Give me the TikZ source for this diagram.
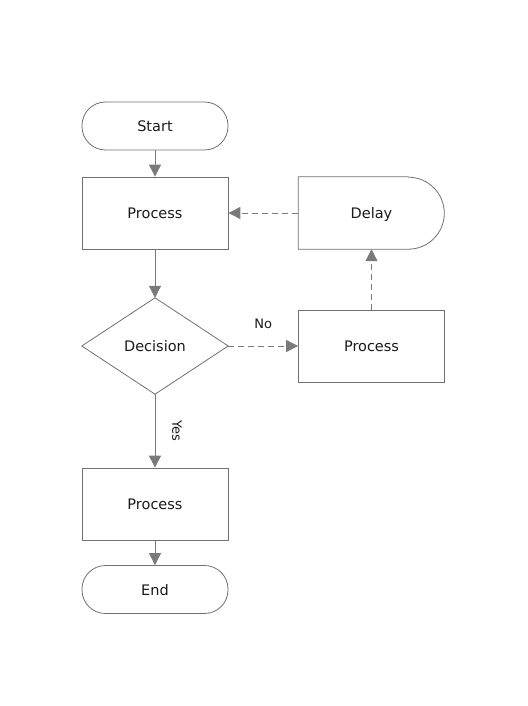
\documentclass[tikz,border=0pt]{standalone}
\usepackage{fontspec}
\setmainfont{DejaVu Sans}
\usetikzlibrary{arrows.meta}
\definecolor{lineg}{HTML}{7A7A7A}
\definecolor{boxg}{HTML}{707070}
\definecolor{txt}{HTML}{1A1A1A}
\begin{document}
\begin{tikzpicture}[x=1pt,y=-1pt,
  lbl/.style={font=\fontsize{14.5}{16}\selectfont, text=txt},
  slbl/.style={font=\fontsize{13}{15}\selectfont, text=txt},
  procbox/.style={draw=boxg, line width=0.8pt, minimum width=146pt, minimum height=72pt, inner sep=0pt, lbl, text depth=-1.5pt},
  termbox/.style={draw=boxg, line width=0.8pt, rounded corners=23.5pt, minimum width=146pt, minimum height=48pt, inner sep=0pt, lbl, text depth=-1.5pt},
  ghost/.style={minimum width=146pt, minimum height=#1, inner sep=0pt, lbl, text depth=-1.5pt},
  shapeline/.style={draw=boxg, line width=0.8pt},
  flow/.style={draw=lineg, line width=1pt, -{Triangle[length=12pt,width=12pt]}},
  dflow/.style={flow, dash pattern=on 6pt off 4pt}]
\useasboundingbox (0,0) rectangle (527,706);
\node[termbox] (start) at (155,126) {Start};
\node[procbox] (p1) at (155,213) {Process};
\node[ghost=96pt] (dec) at (155,346) {Decision};
\draw[shapeline] (dec.north) -- (dec.east) -- (dec.south) -- (dec.west) -- cycle;
\node[procbox] (p3) at (155,504) {Process};
\node[termbox] (end) at (155,589.5) {End};
\node[procbox] (p2) at (371.5,346) {Process};
\node[ghost=72pt] (delay) at (371.5,213) {Delay};
\draw[shapeline] (delay.north east) ++(-36,0) -- (delay.north west) -- (delay.south west) -- ++(110,0) arc[start angle=90, end angle=-90, radius=36] ;
\draw[flow] (start) -- (p1);
\draw[flow] (p1) -- (dec.north);
\draw[flow] (dec.south) -- node[slbl, pos=0.5, xshift=22pt, rotate=-90] {Yes} (p3);
\draw[flow] (p3) -- (end);
\draw[dflow] (dec.east) -- node[slbl, pos=0.5, yshift=22pt] {No} (p2.west);
\draw[dflow] (p2) -- (delay.south);
\draw[dflow] (delay.west) -- (p1.east);
\end{tikzpicture}
\end{document}
